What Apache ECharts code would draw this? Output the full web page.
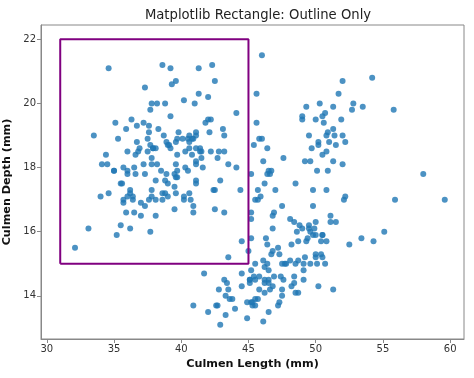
<!DOCTYPE html>
<html>
<head>
<meta charset="utf-8">
<script src="https://cdn.jsdelivr.net/npm/echarts@6/dist/echarts.min.js"></script>
<style>
  html, body { margin: 0; padding: 0; background: #fff; }
  #chart { width: 474px; height: 378px; }
</style>
</head>
<body>
<div id="chart"></div>
<script>
// culmen length / depth, [length, depth]
var adelie = [
  [39.1,18.7],[39.5,17.4],[40.3,18.0],[36.7,19.3],[39.3,20.6],[38.9,17.8],[39.2,19.6],[34.1,18.1],[42.0,20.2],[37.8,17.1],
  [37.8,17.3],[41.1,17.6],[38.6,21.2],[34.6,21.1],[36.6,17.8],[38.7,19.0],[42.5,20.7],[34.4,18.4],[46.0,21.5],[37.8,18.3],
  [37.7,18.7],[35.9,19.2],[38.2,18.1],[38.8,17.2],[35.3,18.9],[40.6,18.6],[40.5,17.9],[37.9,18.6],[40.5,18.9],[39.5,16.7],
  [37.2,18.1],[39.5,17.8],[40.9,18.9],[36.4,17.0],[39.2,21.1],[38.8,20.0],[42.2,18.5],[37.6,19.3],[39.8,19.1],[36.5,18.0],
  [40.8,18.4],[36.0,18.5],[44.1,19.7],[37.0,16.9],[39.6,18.8],[41.1,19.0],[37.5,18.9],[36.0,17.9],[42.3,21.2],[39.6,17.7],
  [40.1,18.9],[35.0,17.9],[42.0,19.5],[34.5,18.1],[41.4,18.6],[39.0,17.5],[40.6,18.8],[36.5,16.6],[37.6,19.1],[35.7,16.9],
  [41.3,21.1],[37.6,17.0],[41.1,18.2],[36.4,17.1],[41.6,18.0],[35.5,16.2],[41.1,19.1],[35.9,16.6],[41.8,19.4],[33.5,19.0],
  [39.7,18.4],[39.6,17.2],[45.8,18.9],[35.5,17.5],[42.8,18.5],[40.9,16.8],[37.2,19.4],[36.2,16.1],[42.1,19.1],[34.6,17.2],
  [42.9,17.6],[36.7,18.8],[35.1,19.4],[37.3,17.8],[41.3,20.3],[36.3,19.5],[36.9,18.6],[38.3,19.2],[38.9,18.8],[35.7,18.0],
  [41.1,18.1],[34.0,17.1],[39.6,18.1],[36.2,17.3],[40.8,18.9],[38.1,18.6],[40.3,18.5],[33.1,16.1],[43.2,18.5],[35.0,17.9],
  [41.0,20.0],[37.7,16.0],[37.8,20.0],[37.9,18.6],[39.7,18.9],[38.6,17.2],[38.2,20.0],[38.1,17.0],[43.2,19.0],[38.1,16.5],
  [45.6,20.3],[39.7,17.7],[42.2,19.5],[39.6,20.7],[42.7,18.3],[38.6,17.0],[37.3,20.5],[35.7,17.0],[41.1,18.6],[36.2,17.2],
  [37.7,19.8],[40.2,17.0],[41.4,18.5],[35.2,15.9],[40.6,19.0],[38.8,17.6],[41.5,18.3],[39.0,17.1],[44.1,18.0],[38.5,17.9],
  [43.1,19.2],[36.8,18.5],[37.5,18.5],[38.1,17.6],[41.1,17.5],[35.6,17.5],[40.2,20.1],[37.0,16.5],[39.7,17.9],[40.2,17.1],
  [40.6,17.2],[32.1,15.5],[40.7,17.0],[37.3,16.8],[39.0,18.7],[39.2,18.6],[36.6,18.4],[36.0,17.8],[37.8,18.1],[36.0,17.1],
  [41.5,18.5]
];
var chinstrap = [
  [46.5,17.9],[50.0,19.5],[51.3,19.2],[45.4,18.7],[52.7,19.8],[45.2,17.8],[46.1,18.2],[51.3,18.2],[46.0,18.9],[51.3,19.9],
  [46.6,17.8],[51.7,20.3],[47.0,17.3],[52.0,18.1],[45.9,17.1],[50.5,19.6],[50.3,20.0],[58.0,17.8],[46.4,18.6],[49.2,18.2],
  [42.4,17.3],[48.5,17.5],[43.2,16.6],[50.6,19.4],[46.7,17.9],[52.0,19.0],[50.5,18.4],[49.5,19.0],[46.4,17.8],[52.8,20.0],
  [40.9,16.6],[54.2,20.8],[42.5,16.7],[51.0,18.8],[49.7,18.6],[47.5,16.8],[47.6,18.3],[52.0,20.7],[46.9,16.6],[53.5,19.9],
  [49.0,19.5],[46.2,17.5],[50.9,19.1],[45.5,17.0],[50.9,17.9],[50.8,18.5],[50.1,17.9],[49.0,19.6],[51.5,18.7],[49.8,17.3],
  [48.1,16.4],[51.4,19.0],[45.7,17.3],[50.7,19.7],[42.5,17.3],[52.2,18.8],[45.2,16.6],[49.3,19.9],[50.2,18.8],[45.6,19.4],
  [51.9,19.5],[46.8,16.5],[45.7,17.0],[55.8,19.8],[43.5,18.1],[49.6,18.2],[50.8,19.0],[50.2,18.7]
];
var gentoo = [
  [46.1,13.2],[50.0,16.3],[48.7,14.1],[50.0,15.2],[47.6,14.5],[46.5,13.5],[45.4,14.6],[46.7,15.3],[43.3,13.4],[46.8,15.4],
  [40.9,13.7],[49.0,16.1],[45.5,13.7],[48.4,14.6],[45.8,14.6],[49.3,15.7],[42.0,13.5],[49.2,15.2],[46.2,14.5],[48.7,15.1],
  [50.2,14.3],[45.1,14.5],[46.5,14.5],[46.3,15.8],[42.9,13.1],[46.1,15.1],[44.5,14.3],[47.8,15.0],[48.2,14.3],[50.0,15.3],
  [47.3,15.3],[42.8,14.2],[45.1,14.5],[59.6,17.0],[49.1,14.8],[48.4,16.3],[42.6,13.7],[44.4,17.3],[44.0,13.6],[48.7,15.7],
  [42.7,13.7],[49.6,16.0],[45.3,13.7],[49.6,15.0],[50.5,15.9],[43.6,13.9],[45.5,13.9],[50.5,15.9],[44.9,13.3],[45.2,15.8],
  [46.6,14.2],[48.5,14.1],[45.1,14.4],[50.1,15.0],[46.5,14.4],[45.0,15.4],[43.8,13.9],[45.5,15.0],[43.2,14.5],[50.4,15.3],
  [45.3,13.8],[46.2,14.9],[45.7,13.9],[54.3,15.7],[45.8,14.2],[49.8,16.8],[46.2,14.4],[49.5,16.2],[43.5,14.2],[50.7,15.0],
  [47.7,15.0],[46.4,15.6],[48.2,15.6],[46.5,14.8],[46.4,15.0],[48.6,16.0],[47.5,14.2],[51.1,16.3],[45.2,13.8],[45.2,16.4],
  [49.1,14.5],[52.5,15.6],[47.4,14.6],[50.0,15.9],[44.9,13.8],[50.8,17.3],[43.4,14.4],[51.3,14.2],[47.5,14.0],[52.1,17.0],
  [47.5,15.0],[52.2,17.1],[45.5,14.5],[49.5,16.1],[44.5,14.7],[50.8,15.7],[49.4,15.8],[46.9,14.6],[48.4,14.4],[51.1,16.5],
  [48.5,15.0],[55.9,17.0],[47.2,15.5],[49.1,15.0],[47.3,13.8],[46.8,16.1],[41.7,14.7],[53.4,15.8],[43.3,14.0],[48.1,15.1],
  [50.5,15.2],[49.8,15.9],[43.5,15.2],[51.5,16.3],[46.2,14.1],[55.1,16.0],[44.5,15.7],[48.8,16.2],[47.2,13.7],[46.8,14.3],
  [50.4,15.7],[45.2,14.8],[49.9,16.1]
];
var points = adelie.concat(chinstrap, gentoo);

// rectangle outline: corner (31, 15), width 14, height 7
var rectCorners = [[31,15],[45,15],[45,22],[31,22],[31,15]];

var xTicks = [30, 35, 40, 45, 50, 55, 60];
var yTicks = [14, 16, 18, 20, 22];

var chart = echarts.init(document.getElementById('chart'));
var fontFam = 'DejaVu Sans';
chart.setOption({
  animation: false,
  title: {
    text: 'Matplotlib Rectangle: Outline Only',
    left: 253, top: 4, textAlign: 'center',
    textStyle: { fontFamily: fontFam, fontSize: 13.2, fontWeight: 'normal', color: '#222' }
  },
  grid: {
    left: 41, right: 10, top: 25, bottom: 39,
    outerBoundsMode: 'none',
    show: true, borderColor: '#888', borderWidth: 1, backgroundColor: '#fff'
  },
  xAxis: {
    type: 'value', min: 29.57, max: 61.03,
    name: 'Culmen Length (mm)', nameLocation: 'middle', nameGap: 17,
    nameTextStyle: { fontFamily: fontFam, fontSize: 11.2, fontWeight: 'bold', color: '#111' },
    axisLine: { show: true, lineStyle: { color: '#888' } },
    axisTick: { show: true, inside: false, length: 4, customValues: xTicks, lineStyle: { color: '#888' } },
    axisLabel: { customValues: xTicks, fontFamily: fontFam, fontSize: 10, color: '#333', margin: 5, showMinLabel: true, showMaxLabel: true },
    splitLine: { show: false }
  },
  yAxis: {
    type: 'value', min: 12.655, max: 22.445,
    name: 'Culmen Depth (mm)', nameLocation: 'middle', nameGap: 20, nameRotate: 90,
    nameTextStyle: { fontFamily: fontFam, fontSize: 11.2, fontWeight: 'bold', color: '#111' },
    axisLine: { show: true, lineStyle: { color: '#888' } },
    axisTick: { show: true, inside: false, length: 4, customValues: yTicks, lineStyle: { color: '#888' } },
    axisLabel: { customValues: yTicks, fontFamily: fontFam, fontSize: 10, color: '#333', margin: 5 },
    splitLine: { show: false }
  },
  series: [
    {
      type: 'scatter',
      data: points,
      symbolSize: 6,
      itemStyle: { color: '#1f77b4', opacity: 0.8 }
    },
    {
      type: 'line',
      data: rectCorners,
      symbol: 'none',
      lineStyle: { color: '#800080', width: 2 },
      z: 3
    }
  ]
});
</script>
</body>
</html>
